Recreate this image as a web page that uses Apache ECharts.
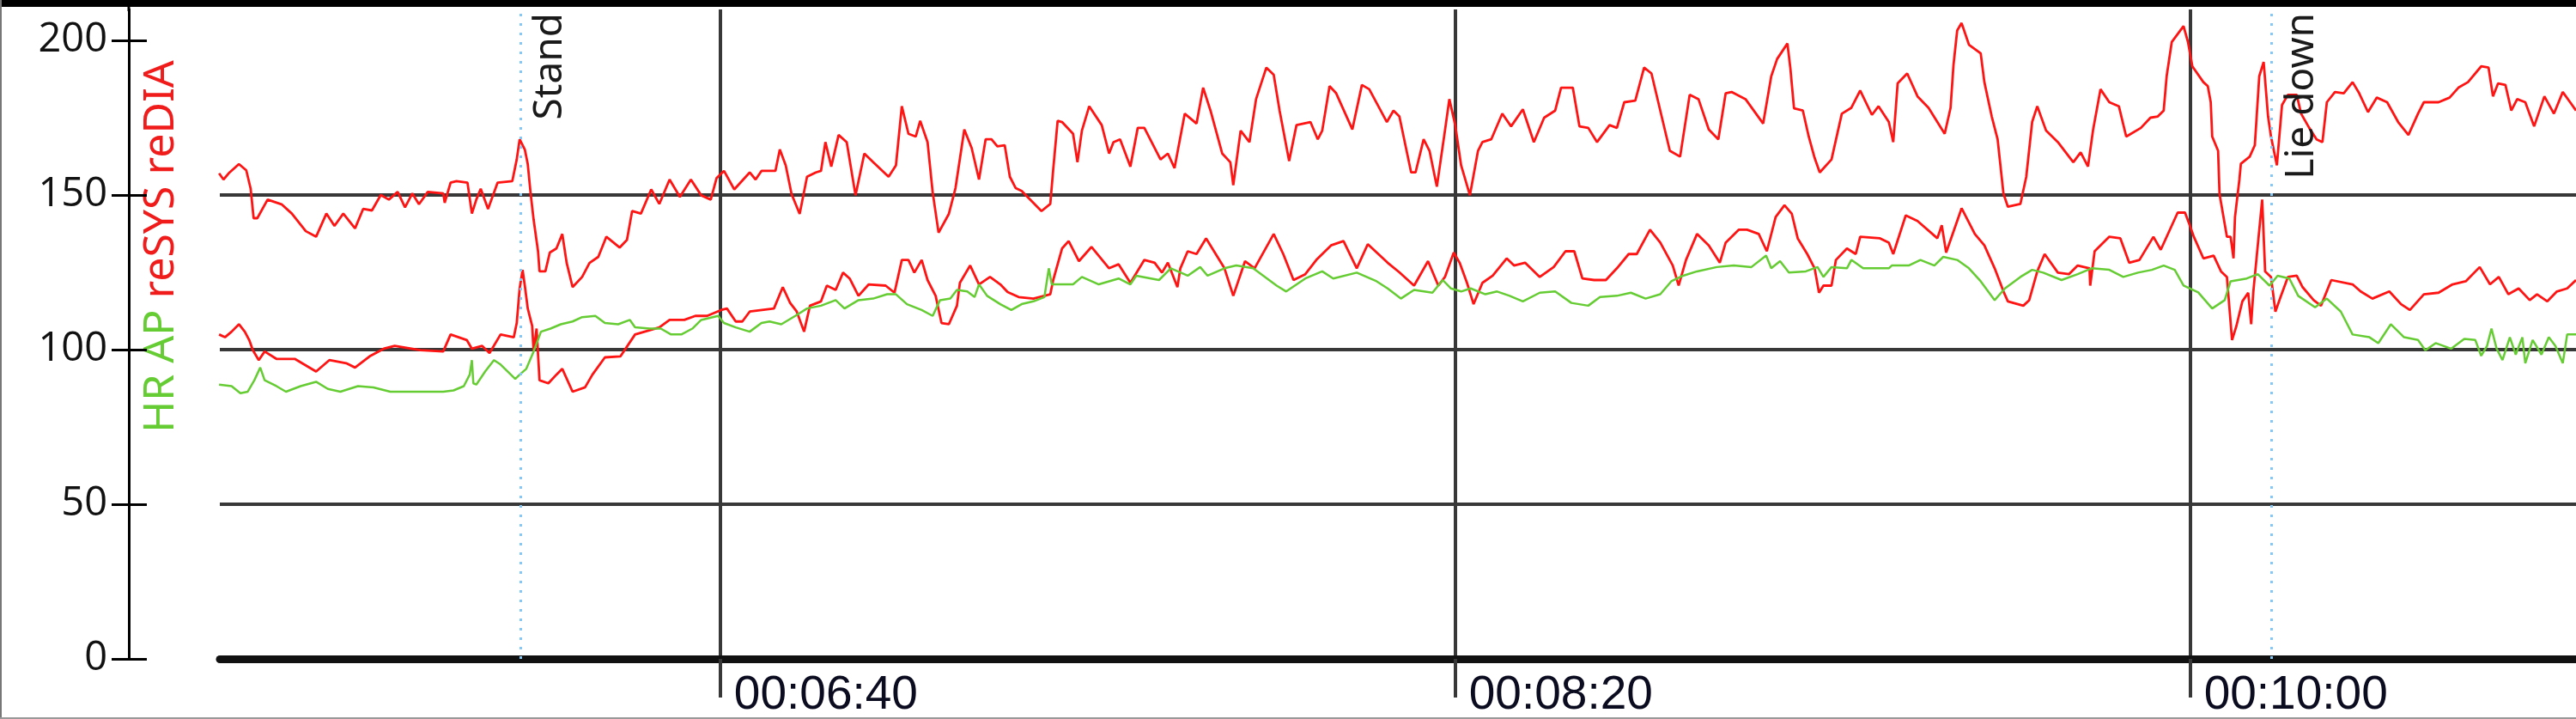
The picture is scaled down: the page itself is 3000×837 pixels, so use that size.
<!DOCTYPE html>
<html><head><meta charset="utf-8">
<script src="https://cdn.jsdelivr.net/npm/echarts@6/dist/echarts.min.js"></script>
<style>html,body{margin:0;padding:0;background:#fff}#c{width:3000px;height:837px}</style>
</head><body><div id="c"></div><script>
const yTicks = [0, 50, 100, 150, 200];
const xTicks = [400, 500, 600];
const xRange = [331.9, 652.5];
const yRange = [0, 210];
const eventTimes = [372.8, 611.1];
const eventLabels = ['Stand', 'Lie down'];
const titleGreen = 'HR AP';
const titleRed = 'reSYS reDIA';

const sysPoints = [[331.8,157],[332.4,155],[333.1,157],[334.5,160],[335.5,158],[336.1,152],[336.5,142.5],[337,142.5],[338.4,148.5],[340.3,147],[341.7,144],[343.6,138.3],[345,136.5],[346.4,144],[347.5,140],[348.7,144],[350.3,139.2],[351.4,145.5],[352.6,145],[353.8,150],[354.9,148.5],[356.1,151],[357.1,146],[358.1,150.5],[359,147],[360.2,151],[362.3,150.5],[362.5,147.5],[363.3,154],[364.1,154.5],[365.6,154],[366.2,144],[366.8,148.5],[367.4,152],[368.4,145.5],[369.7,154],[371.7,154.5],[372.3,161.5],[372.7,168],[373.4,164.7],[373.8,160],[374.2,150.3],[374.6,142],[375.2,131.8],[375.4,125.3],[376.2,125.3],[376.8,131.4],[377.7,132.7],[378.5,137.4],[379.1,128],[379.9,120.2],[381.2,123.5],[382.2,128],[383.4,130],[384.5,136.5],[386.3,133],[387.3,135.5],[388,144.8],[389.2,144],[390.6,151.8],[391.7,147.1],[393.1,155],[394.5,149.4],[396,155],[397.4,149.9],[398.7,148.5],[399.5,155.5],[400.5,157.8],[401.9,151.8],[404,157.3],[404.8,155],[405.6,157.8],[407.5,157.8],[408.1,164.7],[408.9,159.6],[409.7,150.3],[410.8,143.9],[411.8,155.9],[413,157.3],[413.7,157.8],[414.3,167.1],[415.1,159.2],[416.1,169.4],[417.2,167.1],[418.4,149.9],[419.6,163.4],[420.8,160.6],[422.9,155.9],[423.9,159.6],[424.7,178.7],[425.6,169.8],[426.6,168.9],[427.2,174],[428.2,167.1],[428.9,150.8],[429.7,137.8],[431.1,143.9],[432,152.2],[433.2,171.2],[434.2,165.2],[435.2,155],[436.1,168],[436.9,168],[437.7,165.7],[438.7,166.1],[439.4,155.9],[440.2,152.2],[441,151.3],[443.7,144.8],[444.9,147.1],[445.3,158.3],[445.9,174],[446.5,173.6],[448,169.8],[448.6,160.6],[449.2,170.8],[450.2,178.7],[451.9,172.6],[452.9,163.4],[453.5,167.1],[454.4,168],[455.8,159.2],[456.8,171.7],[457.7,171.7],[459.9,161.5],[460.9,163.4],[461.8,158.7],[463.2,176.3],[464.8,173.1],[465.7,184.7],[466.7,177.3],[468.3,163.4],[469.4,160.6],[469.8,153.2],[470.8,170.8],[472,167.1],[472.9,181],[474.3,191.2],[475.3,188.9],[476.1,177.3],[477.4,161],[478.4,172.6],[480.3,173.6],[481.3,168],[481.9,170.8],[482.9,185.2],[483.8,182.9],[486,171.2],[487.3,185.6],[488.3,184.2],[490.7,173.6],[491.6,177.3],[492.4,175.4],[494,157.3],[494.6,157.3],[495.7,168],[496.5,164.3],[497.5,152.7],[498.6,170.8],[499.2,181],[500,172.6],[500.8,159.6],[502,149.9],[503.1,164.3],[503.7,167.1],[504.9,168],[506.4,176.3],[507.6,172.2],[509.2,177.7],[510.7,167.1],[512.1,175],[513.6,177.3],[514.4,184.7],[516,184.7],[516.9,172.2],[518.1,171.7],[519.3,167.1],[521,172.6],[522,171.7],[523,180],[524.5,180.5],[525.7,191.2],[526.7,189.3],[527.9,177.3],[529.2,164.3],[530.6,162.4],[531.9,182.4],[533.1,181],[534.5,171.2],[535.8,168],[536.8,182.9],[537.6,183.3],[539.5,181],[541.9,173.1],[543,188.4],[543.8,194],[545.2,199],[545.6,191],[546.1,178],[547.3,177.3],[548.1,168.9],[548.9,162],[549.6,157.3],[551.2,161.5],[552.6,176.3],[553.9,178.2],[555.1,183.8],[556.7,175.9],[557.6,178.7],[559,173.6],[559.6,167.1],[560.2,186.1],[561.5,189.3],[562.9,181.9],[564.4,178.2],[566.6,169.8],[567.4,178.2],[567.8,192.1],[568.3,203.2],[568.9,205.6],[569.9,198.6],[571.5,195.8],[572,186.5],[573,175.4],[573.8,168],[574.6,150.4],[575.2,146.2],[576.9,147.1],[577.7,155.9],[578.5,173.6],[579.2,178.7],[580.4,170.8],[582,167.1],[584.1,160.6],[585.1,163.8],[586.1,159.2],[586.8,171.2],[587.8,184.2],[589,180],[590.3,178.7],[591.3,168.9],[593.3,171.7],[594.6,175],[595.6,175.4],[596.4,177.3],[596.8,188.4],[597.5,199.5],[599.1,204.6],[599.7,199.5],[600.3,191.6],[601.8,186.5],[602.4,185.2],[602.8,180],[603,168.9],[603.8,164.3],[604,150.3],[605,136.5],[605.5,136.5],[605.9,129.5],[606.1,142.9],[606.7,155],[606.9,160.1],[608.1,162.4],[608.8,166.1],[609.4,188.4],[610,193],[610.6,175.4],[611,168.9],[611.8,159.6],[612.5,179.1],[613.3,182.4],[614.5,182.4],[615.1,176.3],[616.2,171.7],[617.2,168],[618,167.1],[618.6,180],[619.7,183.3],[620.9,182.9],[622.1,186.5],[623,182.9],[624.2,176.8],[625.4,181.5],[626.8,180],[628.3,173.6],[629.7,169.4],[631,176.3],[631.8,180],[633.8,180],[635.3,181.5],[636.5,184.7],[637.8,186.5],[639.6,191.6],[640.6,191.2],[641.2,181.9],[641.9,186.1],[642.9,185.6],[643.7,177.3],[644.5,181],[645.6,180],[646.8,172.2],[648.2,181.9],[649.5,176.3],[650.7,183.3],[651.7,180],[652.5,177.3]];

const diaPoints = [[331.8,104.9],[332.6,104],[333.5,105.8],[334.5,108.2],[335.3,105.8],[335.9,103.1],[336.4,99.8],[337.2,96.6],[338,99.4],[339.6,97],[342.1,97],[345,92.9],[346.8,96.6],[349.1,95.6],[350.3,94.2],[352.4,98],[354.2,100.3],[355.7,101.2],[359.2,99.8],[362.3,99.4],[363.3,104.9],[365.5,103.1],[366.2,100.3],[367.6,101.2],[368.6,98.9],[370.1,104.9],[371.9,104],[372.3,108.6],[372.7,119.8],[373.1,125.8],[373.4,120.7],[373.8,113.3],[374.4,107.7],[374.6,99.4],[375,106.8],[375.4,90.1],[376.6,89.1],[377.7,91.9],[378.5,93.8],[379.9,86.4],[381.6,87.8],[382.6,91.9],[384.3,97.5],[386.4,97.8],[388.4,104.9],[390.4,106.3],[391.7,107.2],[393.1,109.6],[395.1,109.6],[396.6,110.9],[398.2,110.9],[400.1,112.8],[400.9,113.3],[402.1,109.1],[403,109.1],[404,112.3],[407.3,113.3],[408.5,120.2],[409.5,115.1],[410.4,112.3],[411.4,105.8],[412.2,114.2],[413.7,115.6],[414.5,120.7],[415.7,119.3],[416.7,124.9],[417.6,123],[418.8,117.4],[420.2,121.1],[422.5,120.7],[423.7,118.4],[424.7,129],[425.6,129],[426.4,124.9],[427.4,129],[428.2,122.5],[429.3,117.4],[430.1,108.6],[431.1,108.2],[432.2,114.2],[432.6,121.6],[434,127.2],[435.2,121.1],[436.7,123.5],[438.1,121.1],[439.1,118.6],[440.6,117],[442.6,116.5],[444.9,117.9],[445.3,122.5],[446.5,132.7],[447.4,135.1],[448.8,128.6],[450.5,133.2],[452.9,126.3],[454.2,127.6],[455.8,121.6],[457.7,129],[459.1,128.1],[460.1,124.9],[460.9,128.1],[462.2,120.2],[462.6,126.3],[463.6,131.8],[464.8,130.9],[466.1,136],[468.6,126.3],[469.8,117.4],[471.4,128.6],[472.7,126.3],[475.3,137.4],[476.6,130.9],[478,122.5],[479.6,124.4],[481.1,129],[483.1,133.7],[484.8,135.1],[486.6,126.3],[488.1,134.1],[490.8,128.1],[492.4,125],[494.4,120.7],[496.3,128.6],[497.7,120.7],[498.6,123.5],[499.8,131.4],[500.6,128.1],[501.6,121.6],[502.5,114.7],[503.7,121.6],[505.1,123.9],[507,129.5],[508,127.2],[509.5,128.1],[511.5,123.5],[513.4,126.7],[515,131.8],[516.2,131.8],[517.3,123],[518.9,122.5],[520.5,122.5],[522,126.3],[523.6,130.9],[524.7,130.9],[526.5,138.8],[527.9,134.6],[529.6,127.2],[530.4,120.7],[531.4,129],[532.9,137.4],[534.5,133.7],[536,128.1],[536.8,134.6],[538.6,138.8],[539.7,138.8],[541.3,137.4],[542.4,131.8],[543.6,142.9],[544.8,146.7],[545.8,143.9],[546.6,136],[547.9,130.9],[548.9,126.3],[549.5,118.4],[550.1,120.7],[551.2,120.7],[551.8,129],[553.3,132.7],[554.5,130.9],[555.1,136.5],[557.8,136],[559,134.6],[559.6,130.9],[561.3,143.4],[562.9,141.6],[565.6,136],[566.2,140.2],[566.8,131.4],[568.9,145.7],[570.7,137.4],[572,133.7],[573.4,126.3],[574.6,118.8],[575.2,115.6],[577.3,114.2],[578.1,116],[579.2,125.3],[580.2,130.9],[582,124.9],[583.5,124.4],[584.7,127.2],[586.3,126.3],[586.4,120.7],[587,131.8],[589,136.5],[590.5,136],[591.7,128.1],[593.1,129],[595,136.5],[596,132.3],[598.3,144.3],[599.3,144.3],[600.1,139.2],[600.5,136.5],[601.8,129.5],[603.2,130.4],[604.2,125.3],[605,123.5],[605.7,103.1],[606.3,107.7],[607.1,115.6],[607.9,118.4],[608.3,108.2],[608.6,118.8],[609.2,133.7],[609.8,148.5],[610.2,125.3],[611,123.5],[611.6,112.3],[612.3,117],[613.3,123.5],[614.5,123.9],[615.3,120.2],[616.8,116],[617.8,114.2],[619.2,122.5],[622.1,121.1],[623.2,118.8],[624.8,116.5],[627.1,118.8],[628.7,114.7],[629.9,112.8],[631.8,117.9],[633.8,118.4],[635.7,121.1],[637.5,122.1],[639.4,126.7],[640.8,121.1],[642,123.5],[643.3,117.9],[644.7,119.8],[646.2,116],[647.2,117.9],[648.6,115.6],[649.9,118.8],[651.3,119.8],[652.5,122.5]];

const hrPoints = [[331.8,88.7],[333.5,88.2],[334.7,85.9],[335.7,86.4],[336.6,90.1],[337.4,94.2],[338,90.1],[339.6,88.2],[340.9,86.4],[342.9,88.2],[345,89.6],[346.6,87.3],[348.3,86.4],[350.7,88.2],[352.8,87.8],[355.1,86.4],[358.5,86.4],[362.3,86.4],[363.7,86.8],[365.1,88.2],[365.9,91.9],[366.2,96.6],[366.4,89.1],[366.8,88.7],[368,92.9],[369.2,96.6],[370.1,95.2],[372.1,90.5],[372.7,91.9],[373.6,93.8],[374.6,99.4],[375.6,105.8],[376.9,106.8],[378.3,108.2],[379.9,109.1],[381.2,110.5],[383,110.9],[384.3,108.6],[386.1,108.2],[387.7,109.6],[388.4,107.2],[390.4,106.8],[391.9,106.8],[393.3,104.9],[394.7,104.9],[396.2,106.8],[397.4,109.6],[399.7,110.9],[400.5,108.6],[402.1,107.2],[404,105.8],[405.6,108.6],[406.7,109.1],[408.3,108.2],[410.2,110.9],[411.8,113.3],[413.7,114.2],[415.7,116],[416.9,113.3],[418.8,116],[420.8,116.5],[422.7,117.9],[423.9,117.9],[425.4,114.7],[427.4,112.8],[428.9,110.9],[429.9,116],[431.3,116.5],[432.2,119.3],[433.6,118.8],[434.6,117],[435.2,121.1],[436.3,117.4],[438.1,114.7],[439.6,112.8],[441,114.7],[442.6,115.6],[444.1,117],[444.7,126.3],[445.1,121.1],[448,121.1],[449.2,123.5],[451.5,121.1],[454.2,123],[455.8,121.1],[456.6,123.9],[459.7,122.5],[461.3,126.3],[463.6,123.9],[465.3,126.7],[466.3,123.9],[468.6,126.3],[470.2,127.2],[472.5,126.3],[475.7,120.7],[477,118.8],[479.6,123],[481.9,125.3],[483.4,123],[486.6,124.9],[489.3,122.1],[490.8,119.8],[492.6,116.5],[494.4,119.3],[496.9,118.4],[498.3,122.5],[499.4,119.8],[500.8,118.8],[502.1,119.8],[504.1,117.9],[505.7,118.8],[507.4,117.4],[509.2,115.6],[511.5,118.4],[513.6,118.8],[515.8,115.1],[518.1,114.2],[519.7,117],[522,117.4],[523.9,118.4],[525.9,116.5],[527.9,117.9],[529.4,122.1],[531,123.9],[532.9,125.3],[535.6,126.7],[537.9,127.2],[540.3,126.7],[542.3,130.4],[543,126.3],[544.2,128.6],[545.4,124.9],[547.7,125.3],[549.3,126.7],[550.1,123.5],[551.2,126.7],[553.3,126.3],[553.9,129],[555.5,126.3],[559,126.3],[559.4,127.2],[561.7,127.2],[563.3,129],[565.2,127.2],[566.4,130],[568.3,129],[569.9,126.3],[571.5,122.1],[573.4,116],[574.8,119.8],[576.9,123.5],[578.5,125.8],[580,124.9],[582.5,122.5],[584.7,124.4],[586.6,126.3],[589,125.8],[590.9,123.5],[592.9,124.9],[594.8,125.8],[596.4,127.2],[597.9,125.8],[599.1,120.7],[601.1,118.5],[603,113.3],[604.7,116],[605.5,122.1],[607.7,123],[609.2,124.4],[610.8,120.7],[611.9,123.9],[613.5,123],[614.7,117.4],[617,113.7],[618.6,116.5],[620.5,112.3],[622.1,104.9],[624.4,104],[625.6,102.1],[627.3,108.2],[629.1,104],[631,103.1],[632,99.8],[633.4,102.1],[635.5,100.3],[637.3,103.5],[638.8,103.1],[639.6,98],[640.4,101.2],[641,106.8],[641.7,100.3],[642.5,96.6],[643.5,104],[644.3,98.4],[645.2,104],[645.6,95.6],[646.6,103.1],[647.8,98.4],[648.8,104],[649.7,101.2],[650.7,95.6],[651.3,104.9],[652.5,104.9]];

function fmtTime(s) {
  const t = Math.round(s);
  const h = Math.floor(t / 3600), m = Math.floor((t % 3600) / 60), sec = t % 60;
  return [h, m, sec].map(v => String(v).padStart(2, '0')).join(':');
}

const RED = '#ff1414';
const GREEN = '#66cc33';
const GRID = '#383838';

const chart = echarts.init(document.getElementById('c'), null, {renderer: 'canvas'});
chart.setOption({
  animation: false,
  backgroundColor: '#ffffff',
  grid: {left: 256, right: 0, top: 11, bottom: 68},
  xAxis: {
    type: 'value', min: xRange[0], max: xRange[1], offset: 5, z: 3,
    axisLine: {show: true, lineStyle: {color: '#111', width: 9}},
    axisTick: {show: true, customValues: xTicks, length: 45, lineStyle: {color: GRID, width: 4}},
    axisLabel: {
      customValues: xTicks, formatter: fmtTime, align: 'left', margin: 10,
      padding: [0, 0, 0, 16],
      fontFamily: '"Liberation Sans","Arial",sans-serif',
      fontSize: 55, color: '#0c0c20'
    },
    splitLine: {show: true, lineStyle: {color: GRID, width: 4}}
  },
  yAxis: [{
    type: 'value', min: yRange[0], max: yRange[1], offset: 106, position: 'left', z: 3,
    axisLine: {show: true, lineStyle: {color: '#000', width: 3}},
    axisTick: {show: true, customValues: yTicks, length: 20, lineStyle: {color: '#000', width: 3}},
    axisLabel: {customValues: yTicks, margin: 25, fontSize: 47, fontFamily: '"Open Sans",sans-serif', color: '#111'},
    splitLine: {show: true, showMinLine: false, showMaxLine: false, lineStyle: {color: GRID, width: 4}}
  }, {
    type: 'value', min: yRange[0], max: yRange[1], offset: 106, position: 'left', z: 3,
    axisLine: {show: false},
    axisTick: {show: true, inside: true, customValues: yTicks, length: 21, lineStyle: {color: '#000', width: 3}},
    axisLabel: {show: false},
    splitLine: {show: false}
  }],
  series: [
    {name: 'reSYS', type: 'line', data: sysPoints, showSymbol: false, symbol: 'none',
     lineStyle: {color: RED, width: 2.8}, itemStyle: {color: RED}},
    {name: 'reDIA', type: 'line', data: diaPoints, showSymbol: false, symbol: 'none',
     lineStyle: {color: RED, width: 2.8}, itemStyle: {color: RED}},
    {name: 'HR', type: 'line', data: hrPoints, showSymbol: false, symbol: 'none',
     lineStyle: {color: GREEN, width: 2.5}, itemStyle: {color: GREEN},
     markLine: {
       silent: true, symbol: ['none', 'none'], animation: false,
       lineStyle: {color: '#86c8f5', width: 3, type: [3, 8]},
       label: {show: true, formatter: '{b}', position: 'insideEndBottom', distance: [4, 12],
         fontSize: 46, fontFamily: '"Noto Sans",sans-serif', color: '#1a1a1a'},
       data: eventTimes.map((t, i) => ({xAxis: t, name: eventLabels[i]}))
     }}
  ],
  graphic: [
    {type: 'rect', silent: true, shape: {x: 0, y: 0, width: 3000, height: 8}, style: {fill: '#000'}},
    {type: 'rect', silent: true, shape: {x: 0, y: 0, width: 2, height: 837}, style: {fill: '#777'}},
    {type: 'rect', silent: true, shape: {x: 0, y: 835, width: 3000, height: 2}, style: {fill: '#999'}},
    {type: 'rect', silent: true, shape: {x: 148.5, y: 5, width: 3, height: 8}, style: {fill: '#000'}},
    {type: 'text', silent: true, x: 188, y: 287, rotation: Math.PI / 2,
     style: {
       text: '{g|' + titleGreen + '} {r|' + titleRed + '}',
       align: 'center', verticalAlign: 'middle',
       font: '50px "Noto Sans", sans-serif',
       rich: {
         g: {fill: GREEN, fontSize: 50, fontFamily: '"Noto Sans", sans-serif'},
         r: {fill: '#f01c1c', fontSize: 50, fontFamily: '"Noto Sans", sans-serif'}
       }
     }}
  ]
});
</script></body></html>
